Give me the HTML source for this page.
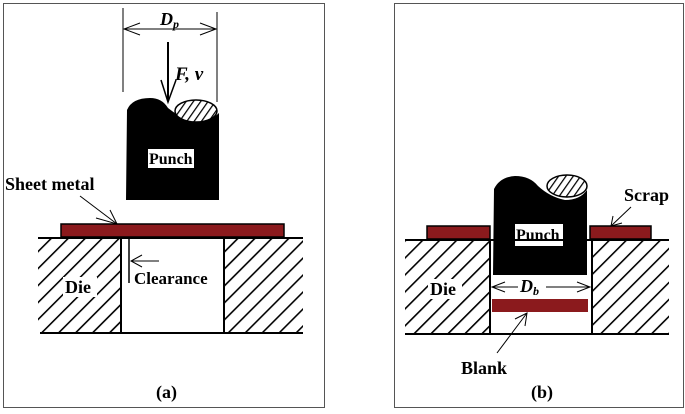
<!DOCTYPE html>
<html><head><meta charset="utf-8"><style>
html,body{margin:0;padding:0;background:#fff}
svg{display:block}
text{font-family:"Liberation Serif",serif;font-weight:bold;fill:#000}
</style></head><body>
<svg width="685" height="414" viewBox="0 0 685 414" xmlns="http://www.w3.org/2000/svg">
<defs>
<pattern id="h" patternUnits="userSpaceOnUse" width="12" height="12" patternTransform="rotate(45)">
<rect width="12" height="12" fill="#fff"/>
<line x1="0" y1="0" x2="0" y2="12" stroke="#000" stroke-width="3.2"/>
</pattern>
<pattern id="h2" patternUnits="userSpaceOnUse" width="6" height="6" patternTransform="rotate(35)">
<rect width="6" height="6" fill="#fff"/>
<line x1="0" y1="0" x2="0" y2="6" stroke="#000" stroke-width="2.5"/>
</pattern>
</defs>
<rect x="3.5" y="3.5" width="321" height="404" fill="none" stroke="#555" stroke-width="1"/>
<rect x="394.5" y="3.5" width="289" height="404" fill="none" stroke="#555" stroke-width="1"/>

<!-- PANEL A -->
<line x1="123" y1="8" x2="123" y2="92" stroke="#000"/>
<line x1="217" y1="12" x2="217" y2="102" stroke="#000"/>
<line x1="124" y1="29" x2="216" y2="29" stroke="#000"/>
<polyline points="140,23 124,29 140,35" fill="none" stroke="#000"/>
<polyline points="200,23 216,29 200,35" fill="none" stroke="#000"/>
<text x="160" y="25" font-size="18" font-style="italic">D<tspan font-size="12" dy="3">p</tspan></text>
<line x1="168" y1="42" x2="168" y2="101" stroke="#000" stroke-width="2"/>
<polyline points="161,80 168,102 176,80" fill="none" stroke="#000" stroke-width="1.5"/>
<text x="175" y="80" font-size="19" font-style="italic">F, v</text>
<path d="M127,110 Q132,98 150,98 Q162,98 168,108 Q178,116 188,120 Q205,126 219,113 L219,200 L126,200 Z" fill="#000"/>
<ellipse cx="196" cy="111" rx="21" ry="11" fill="url(#h2)" stroke="#000" stroke-width="1.5"/>
<rect x="148" y="149" width="46" height="19" fill="#fff"/>
<text x="149" y="164" font-size="16">Punch</text>
<text x="5" y="190" font-size="18">Sheet metal</text>
<line x1="80" y1="196" x2="117" y2="224" stroke="#000"/>
<polyline points="96,218 117,224 110,210" fill="none" stroke="#000"/>
<rect x="61" y="224" width="223" height="13" fill="#8b1a1d" stroke="#000" stroke-width="1.5"/>
<rect x="38" y="238" width="83" height="95" fill="url(#h)"/>
<rect x="224" y="238" width="79" height="95" fill="url(#h)"/>
<line x1="38" y1="238" x2="303" y2="238" stroke="#000" stroke-width="2"/>
<line x1="40" y1="333" x2="303" y2="333" stroke="#000" stroke-width="2"/>
<line x1="121" y1="238" x2="121" y2="333" stroke="#000" stroke-width="2"/>
<line x1="224" y1="238" x2="224" y2="333" stroke="#000" stroke-width="2"/>
<line x1="129" y1="238" x2="129" y2="283" stroke="#000" stroke-width="1.5"/>
<line x1="131" y1="261" x2="159" y2="261" stroke="#000"/>
<polyline points="142,255 131,261 142,267" fill="none" stroke="#000"/>
<rect x="63" y="277" width="34" height="20" fill="#fff"/>
<text x="65" y="293" font-size="18">Die</text>
<rect x="133" y="268" width="80" height="20" fill="#fff"/>
<text x="134" y="284" font-size="17">Clearance</text>
<text x="156" y="398" font-size="18">(a)</text>

<!-- PANEL B -->
<path d="M494,189 Q500,177 515,176 Q530,176 538,186 Q550,197 565,200 Q580,200 587,190 L587,275 L493,275 Z" fill="#000"/>
<ellipse cx="567" cy="186" rx="20" ry="11" fill="url(#h2)" stroke="#000" stroke-width="1.5"/>
<rect x="515" y="224" width="48" height="22" fill="#fff"/>
<text x="516" y="240" font-size="16">Punch</text>
<rect x="427" y="226" width="63" height="13" fill="#8b1a1d" stroke="#000" stroke-width="1.5"/>
<rect x="590" y="226" width="61" height="13" fill="#8b1a1d" stroke="#000" stroke-width="1.5"/>
<text x="624" y="201" font-size="18">Scrap</text>
<line x1="631" y1="207" x2="611" y2="226" stroke="#000"/>
<polyline points="613,216 611,226 622,223" fill="none" stroke="#000"/>
<rect x="405" y="240" width="85" height="94" fill="url(#h)"/>
<rect x="592" y="240" width="77" height="94" fill="url(#h)"/>
<line x1="405" y1="240" x2="669" y2="240" stroke="#000" stroke-width="2"/>
<line x1="405" y1="334" x2="669" y2="334" stroke="#000" stroke-width="2"/>
<line x1="490" y1="240" x2="490" y2="334" stroke="#000" stroke-width="2"/>
<line x1="592" y1="240" x2="592" y2="334" stroke="#000" stroke-width="2"/>
<rect x="491" y="276" width="100" height="22" fill="#fff"/>
<line x1="492" y1="287" x2="590" y2="287" stroke="#000"/>
<polyline points="505,282 492,287 505,292" fill="none" stroke="#000"/>
<polyline points="577,282 590,287 577,292" fill="none" stroke="#000"/>
<rect x="518" y="277" width="28" height="18" fill="#fff"/>
<text x="520" y="292" font-size="18" font-style="italic">D<tspan font-size="12" dy="3">b</tspan></text>
<rect x="491" y="297" width="97" height="15" fill="#fff"/>
<rect x="492" y="299" width="96" height="13" fill="#8b1a1d"/>
<rect x="491" y="313" width="100" height="20" fill="#fff"/>
<rect x="428" y="279" width="34" height="20" fill="#fff"/>
<text x="430" y="295" font-size="18">Die</text>
<line x1="497" y1="353" x2="527" y2="313" stroke="#000"/>
<polyline points="515,319 527,313 525,326" fill="none" stroke="#000"/>
<text x="461" y="374" font-size="18">Blank</text>
<text x="531" y="398" font-size="18">(b)</text>
</svg>
</body></html>
